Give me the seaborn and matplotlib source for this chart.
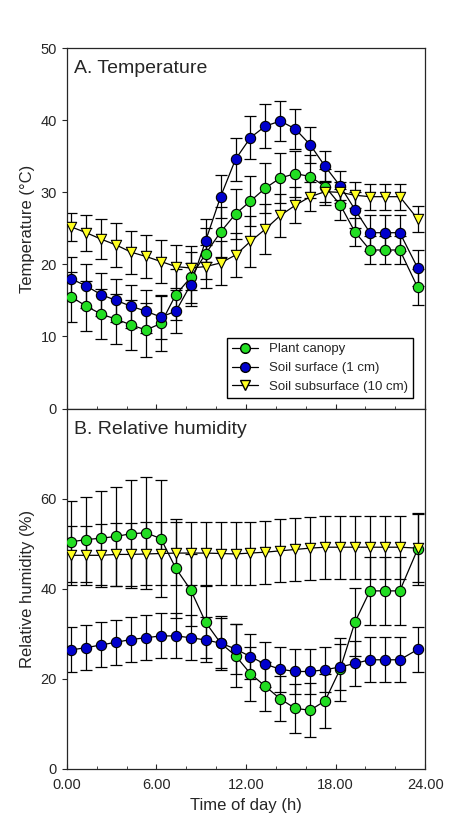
import numpy as np
import pandas as pd
import matplotlib
matplotlib.use("Agg")
import matplotlib.pyplot as plt
import seaborn as sns
from matplotlib.ticker import MultipleLocator
from matplotlib.lines import Line2D

hours = [0.3, 1.3, 2.3, 3.3, 4.3, 5.3, 6.3, 7.3, 8.3, 9.3, 10.3, 11.3,
         12.3, 13.3, 14.3, 15.3, 16.3, 17.3, 18.3, 19.3, 20.3, 21.3, 22.3, 23.5]

temp_canopy = [15.5, 14.2, 13.1, 12.4, 11.6, 10.9, 11.8, 15.8, 18.2, 21.5, 24.5, 27.0,
               28.8, 30.6, 32.0, 32.6, 32.2, 30.8, 28.3, 24.5, 22.0, 22.0, 22.0, 16.8]
temp_canopy_err = [3.5, 3.5, 3.5, 3.5, 3.5, 3.8, 3.8, 3.5, 3.5, 3.5, 3.5, 3.5,
                   3.5, 3.5, 3.5, 3.2, 3.0, 2.5, 2.2, 2.0, 2.0, 2.0, 2.0, 2.5]
temp_surface = [18.0, 17.0, 15.8, 15.0, 14.2, 13.5, 12.7, 13.5, 17.2, 23.3, 29.4, 34.6,
                37.6, 39.2, 39.9, 38.8, 36.6, 33.6, 30.9, 27.6, 24.4, 24.4, 24.4, 19.5]
temp_surface_err = [3.0, 3.0, 3.0, 3.0, 3.0, 3.0, 3.0, 3.0, 3.0, 3.0, 3.0, 3.0,
                    3.0, 3.0, 2.8, 2.8, 2.5, 2.2, 2.0, 2.5, 2.5, 2.5, 2.5, 2.5]
temp_sub = [25.2, 24.4, 23.5, 22.7, 21.7, 21.1, 20.4, 19.7, 19.5, 19.7, 20.2, 21.3,
            23.2, 24.9, 26.8, 28.2, 29.4, 30.1, 30.0, 29.6, 29.4, 29.4, 29.4, 26.3]
temp_sub_err = [2.0, 2.5, 2.8, 3.0, 3.0, 3.0, 3.0, 3.0, 3.0, 3.0, 3.0, 3.0,
                3.5, 3.5, 3.0, 2.5, 2.0, 1.5, 1.5, 1.8, 1.8, 1.8, 1.8, 1.8]

rh_canopy = [50.4, 50.9, 51.2, 51.6, 52.2, 52.4, 51.1, 44.5, 39.7, 32.5, 27.9, 25.1,
             21.1, 18.3, 15.5, 13.4, 13.0, 15.1, 22.1, 32.6, 39.5, 39.5, 39.5, 48.8]
rh_canopy_err = [9.0, 9.5, 10.5, 11.0, 12.0, 12.5, 13.0, 11.0, 8.0, 8.0, 6.0, 7.0,
                 6.0, 5.5, 5.0, 5.5, 6.0, 6.0, 7.0, 7.5, 7.5, 7.5, 7.5, 8.0]
rh_surface = [26.4, 26.9, 27.5, 28.1, 28.7, 29.1, 29.5, 29.5, 29.1, 28.6, 27.9, 26.6,
              24.9, 23.2, 22.1, 21.6, 21.6, 22.0, 22.6, 23.4, 24.2, 24.2, 24.2, 26.5]
rh_surface_err = [5.0, 5.0, 5.0, 5.0, 5.0, 5.0, 5.0, 5.0, 5.0, 5.0, 5.5, 5.5,
                  5.0, 5.0, 5.0, 5.0, 5.0, 5.0, 5.0, 5.0, 5.0, 5.0, 5.0, 5.0]
rh_sub = [47.4, 47.4, 47.4, 47.6, 47.6, 47.7, 47.8, 47.9, 47.9, 47.9, 47.8, 47.7,
          47.9, 48.1, 48.4, 48.7, 49.0, 49.2, 49.2, 49.2, 49.2, 49.2, 49.2, 49.0]
rh_sub_err = [6.5, 6.5, 7.0, 7.0, 7.0, 7.0, 7.0, 7.0, 7.0, 7.0, 7.0, 7.0,
              7.0, 7.0, 7.0, 7.0, 7.0, 7.0, 7.0, 7.0, 7.0, 7.0, 7.0, 7.5]

labels = ["Plant canopy", "Soil surface (1 cm)", "Soil subsurface (10 cm)"]
colors = ["#22dd22", "#0000cc", "#ffff22"]
markers = ["o", "o", "v"]

sns.set_style("ticks")
plt.rcParams['font.family'] = ['Liberation Sans', 'DejaVu Sans']

fig, (ax1, ax2) = plt.subplots(2, 1, figsize=(4.74, 8.32), dpi=100, sharex=True)
fig.subplots_adjust(left=0.141, right=0.897, top=0.942, bottom=0.076, hspace=0)


def draw(ax, series):
    for (vals, errs), lab, col, mk in zip(series, labels, colors, markers):
        df = pd.DataFrame({"t": hours, "v": vals})
        ax.errorbar(hours, vals, yerr=errs, fmt="none", ecolor="black",
                    elinewidth=0.9, capsize=4, capthick=0.9, zorder=1)
        sns.lineplot(data=df, x="t", y="v", ax=ax, color="black", lw=0.9,
                     zorder=2, legend=False)
        sns.scatterplot(data=df, x="t", y="v", ax=ax, color=col, marker=mk,
                        s=55, edgecolor="black", linewidth=0.8, zorder=3)
    for sp in ax.spines.values():
        sp.set_linewidth(0.9)
    ax.set_xlabel("")


draw(ax1, [(temp_canopy, temp_canopy_err), (temp_surface, temp_surface_err),
           (temp_sub, temp_sub_err)])
draw(ax2, [(rh_canopy, rh_canopy_err), (rh_surface, rh_surface_err),
           (rh_sub, rh_sub_err)])

ax1.set_ylim(0, 50)
ax1.set_yticks([0, 10, 20, 30, 40, 50])
ax2.set_ylim(0, 80)
ax2.set_yticks([0, 20, 40, 60])
ax2.set_xlim(0, 24)
ax2.set_xticks([0, 6, 12, 18, 24])
ax2.set_xticklabels(["0.00", "6.00", "12.00", "18.00", "24.00"])
ax2.xaxis.set_minor_locator(MultipleLocator(2))
for ax in (ax1, ax2):
    ax.tick_params(labelsize=10.5)
    ax.tick_params(axis="x", which="both", direction="in")
ax2.tick_params(axis="x", pad=7)

ax1.set_ylabel("Temperature (°C)", fontsize=12)
ax2.set_ylabel("Relative humidity (%)", fontsize=12)
ax2.set_xlabel("Time of day (h)", fontsize=12)
ax1.text(0.02, 0.93, "A. Temperature", transform=ax1.transAxes, fontsize=14)
ax2.text(0.02, 0.93, "B. Relative humidity", transform=ax2.transAxes, fontsize=14)

handles = [Line2D([], [], color="black", lw=0.9, marker=m, markerfacecolor=c,
                  markeredgecolor="black", markersize=7)
           for c, m in zip(colors, markers)]
ax1.legend(handles, labels, loc="lower right", fontsize=9.5, frameon=True,
           fancybox=False, edgecolor="black", framealpha=1,
           bbox_to_anchor=(0.985, 0.01))

fig.savefig("out.png", dpi=100)
